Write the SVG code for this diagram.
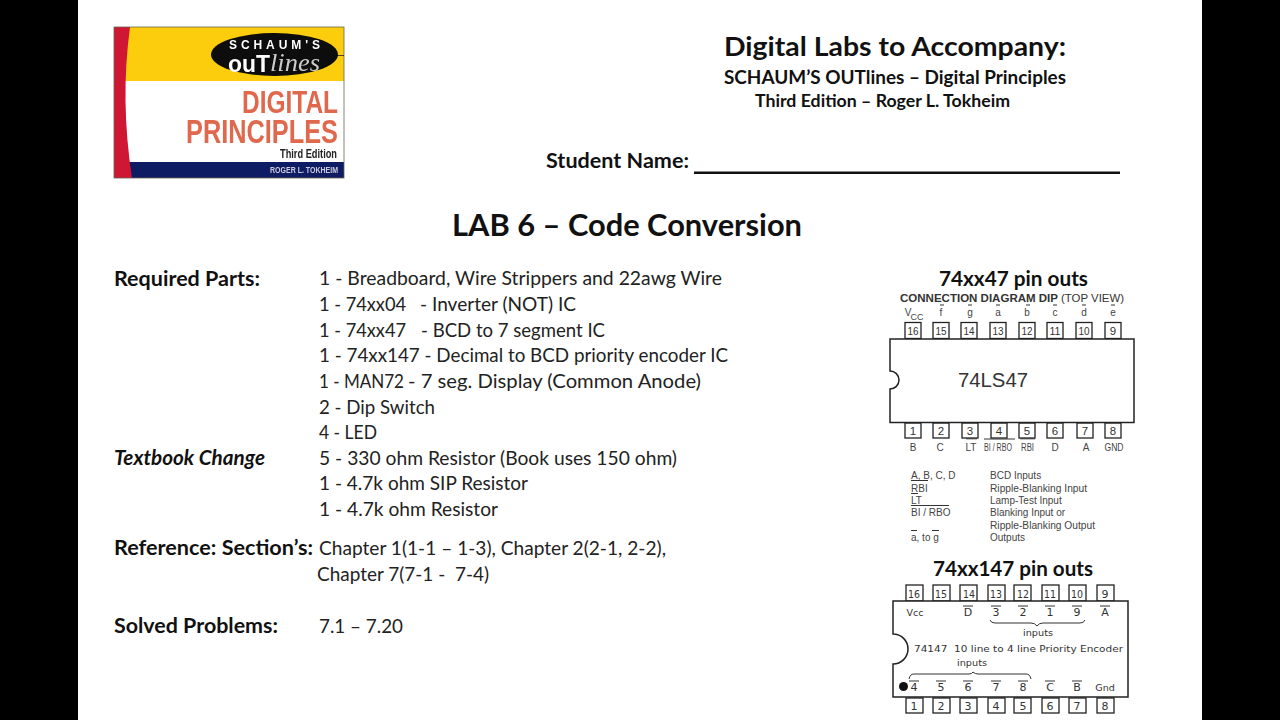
<svg xmlns="http://www.w3.org/2000/svg" width="1280" height="720" viewBox="0 0 1280 720">
<style>
.c{font-family:Lato,"Open Sans","Noto Sans",sans-serif;fill:#111}
.b{font-weight:700}
.t{font-size:19.5px;fill:#222}
.a{font-family:"Liberation Sans",Arial,sans-serif;fill:#333}
.pl{font-size:10px;text-anchor:middle;fill:#444}
.pn{font-size:11.5px;text-anchor:middle}
.lg{font-size:10px;fill:#444}
.m{font-family:"DejaVu Sans",sans-serif;fill:#333}
.mn{font-size:11px;text-anchor:middle}
.pin{fill:#fff;stroke:#222;stroke-width:1.3}
.body{fill:#fff;stroke:#222;stroke-width:1.5}
.ln{stroke:#333;stroke-width:1;fill:none}
</style>
<defs><filter id="soft" x="-5%" y="-5%" width="110%" height="110%"><feGaussianBlur stdDeviation="0.45"/></filter></defs>
<rect width="1280" height="720" fill="#fff"/>
<rect x="0" y="0" width="78" height="720" fill="#000"/>
<rect x="1202" y="0" width="78" height="720" fill="#000"/>

<g id="cover" filter="url(#soft)">
<rect x="114" y="27" width="230" height="151" fill="#fff"/>
<rect x="114" y="27" width="230" height="54" fill="#fbcd0a"/>
<rect x="114" y="162" width="230" height="16" fill="#0f1a63"/>
<path d="M114 27H130Q120 100 132 178H114Z" fill="#cf1230"/>
<rect x="114" y="27" width="230" height="151" fill="none" stroke="#665" stroke-width="0.8"/>
<path d="M336 55.500H344" stroke="#222" stroke-width="0.8"/>
<ellipse cx="274.500" cy="54.500" rx="63.500" ry="21.500" fill="#0a0a0a"/>
<text x="229" y="49" font-family="'Liberation Sans',sans-serif" font-weight="700" font-size="12" fill="#fff" textLength="91">SCHAUM'S</text>
<text x="228" y="71.500" font-family="'Liberation Sans',sans-serif" font-weight="700" font-size="23" fill="#fff" textLength="42" lengthAdjust="spacingAndGlyphs">ouT</text>
<text x="270" y="71" font-family="'Liberation Serif',serif" font-style="italic" font-size="25" fill="#ccc" textLength="50" lengthAdjust="spacingAndGlyphs">lines</text>
<text x="242" y="113" font-family="'Liberation Sans',sans-serif" font-weight="700" font-size="32" fill="#e0694d" textLength="96" lengthAdjust="spacingAndGlyphs">DIGITAL</text>
<text x="186" y="143" font-family="'Liberation Sans',sans-serif" font-weight="700" font-size="33" fill="#e0694d" textLength="152" lengthAdjust="spacingAndGlyphs">PRINCIPLES</text>
<text x="280" y="158" font-family="'Liberation Sans',sans-serif" font-weight="700" font-size="13" fill="#222" textLength="57" lengthAdjust="spacingAndGlyphs">Third Edition</text>
<text x="270" y="173" font-family="'Liberation Sans',sans-serif" font-weight="700" font-size="9.500" fill="#ccd" textLength="68" lengthAdjust="spacingAndGlyphs">ROGER L. TOKHEIM</text>
</g>

<g id="header">
<text class="c b" x="724" y="56" font-size="26.500" textLength="342" lengthAdjust="spacingAndGlyphs">Digital Labs to Accompany:</text>
<text class="c b" x="724" y="84" font-size="19" textLength="342" lengthAdjust="spacingAndGlyphs">SCHAUM’S OUTlines – Digital Principles</text>
<text class="c b" x="755" y="107" font-size="16.500" textLength="255" lengthAdjust="spacingAndGlyphs">Third Edition – Roger L. Tokheim</text>
<text class="c b" x="546" y="168" font-size="20.500" textLength="143" lengthAdjust="spacingAndGlyphs">Student Name:</text>
<rect x="694" y="171.500" width="426" height="2.500" fill="#111"/>
<text class="c b" x="452" y="236" font-size="31" textLength="350" lengthAdjust="spacingAndGlyphs">LAB 6 – Code Conversion</text>
</g>

<g id="parts">
<text class="c b" x="114" y="285.500" font-size="20" textLength="146" lengthAdjust="spacingAndGlyphs">Required Parts:</text>
<text class="c t" x="319" y="285" textLength="403" lengthAdjust="spacingAndGlyphs">1 - Breadboard, Wire Strippers and 22awg Wire</text>
<text class="c t" x="319" y="311" textLength="87" lengthAdjust="spacingAndGlyphs">1 - 74xx04</text>
<text class="c t" x="420" y="311" textLength="156" lengthAdjust="spacingAndGlyphs">- Inverter (NOT) IC</text>
<text class="c t" x="319" y="337" textLength="87" lengthAdjust="spacingAndGlyphs">1 - 74xx47</text>
<text class="c t" x="421" y="337" textLength="184" lengthAdjust="spacingAndGlyphs">- BCD to 7 segment IC</text>
<text class="c t" x="319" y="362" textLength="409" lengthAdjust="spacingAndGlyphs">1 - 74xx147 - Decimal to BCD priority encoder IC</text>
<text class="c t" x="319" y="388" textLength="85" lengthAdjust="spacingAndGlyphs">1 - MAN72</text>
<text class="c t" x="408" y="388" textLength="293" lengthAdjust="spacingAndGlyphs">- 7 seg. Display (Common Anode)</text>
<text class="c t" x="319" y="414" textLength="116" lengthAdjust="spacingAndGlyphs">2 - Dip Switch</text>
<text class="c t" x="319" y="439" textLength="58" lengthAdjust="spacingAndGlyphs">4 - LED</text>
<text class="c b" x="114" y="464.500" font-size="20" font-style="italic" textLength="151" lengthAdjust="spacingAndGlyphs">Textbook Change</text>
<text class="c t" x="319" y="465" textLength="358" lengthAdjust="spacingAndGlyphs">5 - 330 ohm Resistor (Book uses 150 ohm)</text>
<text class="c t" x="319" y="490" textLength="209" lengthAdjust="spacingAndGlyphs">1 - 4.7k ohm SIP Resistor</text>
<text class="c t" x="319" y="516" textLength="179" lengthAdjust="spacingAndGlyphs">1 - 4.7k ohm Resistor</text>
<text class="c b" x="114" y="555" font-size="20" textLength="199" lengthAdjust="spacingAndGlyphs">Reference: Section’s:</text>
<text class="c t" x="319" y="555" textLength="347" lengthAdjust="spacingAndGlyphs">Chapter 1(1-1 – 1-3), Chapter 2(2-1, 2-2),</text>
<text class="c t" x="317" y="581" textLength="172" lengthAdjust="spacingAndGlyphs" xml:space="preserve">Chapter 7(7-1 -  7-4)</text>
<text class="c b" x="114" y="633" font-size="20" textLength="164" lengthAdjust="spacingAndGlyphs">Solved Problems:</text>
<text class="c t" x="319" y="633" textLength="84" lengthAdjust="spacingAndGlyphs">7.1 – 7.20</text>
</g>

<g id="ic-74xx47">
<text class="c b" x="939" y="285.500" font-size="20.500" textLength="149" lengthAdjust="spacingAndGlyphs">74xx47 pin outs</text>
<text class="a b" x="900" y="302" font-size="11" fill="#111" textLength="158" lengthAdjust="spacingAndGlyphs">CONNECTION DIAGRAM DIP</text>
<text class="a" x="1061" y="302" font-size="11" fill="#666" textLength="63" lengthAdjust="spacingAndGlyphs">(TOP VIEW)</text>
<path d="M940 305H944M968 305H972M996 305H1000M1026 305H1030M1053 305H1057M1082 305H1086M1111 305H1115" stroke="#333" stroke-width="1.200"/>
<g class="a pl">
<text x="908" y="316">V</text><text x="917" y="320" font-size="9">CC</text>
<text x="941" y="316">f</text><text x="970" y="316">g</text><text x="998" y="316">a</text><text x="1027" y="316">b</text><text x="1055" y="316">c</text><text x="1084" y="316">d</text><text x="1113" y="316">e</text>
</g>
<g>
<rect class="pin" x="905" y="322.500" width="16" height="16"/><rect class="pin" x="933" y="322.500" width="16" height="16"/><rect class="pin" x="961" y="322.500" width="16" height="16"/><rect class="pin" x="990" y="322.500" width="16" height="16"/><rect class="pin" x="1019" y="322.500" width="16" height="16"/><rect class="pin" x="1047" y="322.500" width="16" height="16"/><rect class="pin" x="1076" y="322.500" width="16" height="16"/><rect class="pin" x="1105" y="322.500" width="16" height="16"/>
<rect class="pin" x="905" y="423" width="16" height="15"/><rect class="pin" x="933" y="423" width="16" height="15"/><rect class="pin" x="962" y="423" width="16" height="15"/><rect class="pin" x="991" y="423" width="16" height="15"/><rect class="pin" x="1019" y="423" width="16" height="15"/><rect class="pin" x="1047" y="423" width="16" height="15"/><rect class="pin" x="1077" y="423" width="16" height="15"/><rect class="pin" x="1105" y="423" width="16" height="15"/>
</g>
<path class="body" d="M890 339H1134V422.500H890V389A8.500 8.500 0 0 0 890 371Z"/>
<text class="a" x="958" y="387" font-size="20.500" fill="#222" textLength="70" lengthAdjust="spacingAndGlyphs">74LS47</text>
<g class="a pn">
<text x="913" y="335" textLength="11" lengthAdjust="spacingAndGlyphs">16</text><text x="941" y="335" textLength="11" lengthAdjust="spacingAndGlyphs">15</text><text x="969" y="335" textLength="11" lengthAdjust="spacingAndGlyphs">14</text><text x="998" y="335" textLength="11" lengthAdjust="spacingAndGlyphs">13</text><text x="1027" y="335" textLength="11" lengthAdjust="spacingAndGlyphs">12</text><text x="1055" y="335" textLength="11" lengthAdjust="spacingAndGlyphs">11</text><text x="1084" y="335" textLength="11" lengthAdjust="spacingAndGlyphs">10</text><text x="1113" y="335">9</text>
<text x="913" y="435">1</text><text x="941" y="435">2</text><text x="970" y="435">3</text><text x="999" y="435">4</text><text x="1027" y="435">5</text><text x="1055" y="435">6</text><text x="1085" y="435">7</text><text x="1113" y="435">8</text>
</g>
<g class="a pl">
<text x="913" y="451">B</text><text x="940" y="451">C</text><text x="971" y="451">LT</text><text x="998" y="451" textLength="28" lengthAdjust="spacingAndGlyphs">BI / RBO</text><text x="1027.500" y="451" textLength="13" lengthAdjust="spacingAndGlyphs">RBI</text><text x="1055" y="451">D</text><text x="1086" y="451">A</text><text x="1114" y="451" textLength="19" lengthAdjust="spacingAndGlyphs">GND</text>
</g>
<path class="ln" d="M984 439H1015" stroke="#777"/>
<path class="ln" d="M966 438.800H977M1020 438.800H1035" stroke-width="1.200"/>
</g>

<g id="legend" class="a lg">
<text x="911" y="479">A, B, C, D</text><text x="990" y="479">BCD Inputs</text>
<text x="911" y="492">RBI</text><text x="990" y="492" textLength="97" lengthAdjust="spacingAndGlyphs">Ripple-Blanking Input</text>
<text x="911" y="504">LT</text><text x="990" y="504">Lamp-Test Input</text>
<text x="911" y="516">BI / RBO</text><text x="990" y="516">Blanking Input or</text>
<text x="990" y="529" textLength="105" lengthAdjust="spacingAndGlyphs">Ripple-Blanking Output</text>
<text x="911" y="541">a, to g</text><text x="990" y="541">Outputs</text>
<path class="ln" d="M911 480.500H928M911 493.500H918M911 505.500H949M911 530.500H917M932 530.500H939" stroke-width="1.200"/>
</g>

<g id="ic-74xx147">
<text class="c b" x="933" y="576" font-size="20.500" textLength="160" lengthAdjust="spacingAndGlyphs">74xx147 pin outs</text>
<g>
<rect class="pin" x="906" y="585" width="17" height="16"/><rect class="pin" x="933" y="585" width="17" height="16"/><rect class="pin" x="960" y="585" width="17" height="16"/><rect class="pin" x="988" y="585" width="17" height="16"/><rect class="pin" x="1014" y="585" width="17" height="16"/><rect class="pin" x="1042" y="585" width="17" height="16"/><rect class="pin" x="1069" y="585" width="17" height="16"/><rect class="pin" x="1097" y="585" width="17" height="16"/>
<rect class="pin" x="906" y="698" width="17" height="15"/><rect class="pin" x="933" y="698" width="17" height="15"/><rect class="pin" x="960" y="698" width="17" height="15"/><rect class="pin" x="988" y="698" width="17" height="15"/><rect class="pin" x="1014" y="698" width="17" height="15"/><rect class="pin" x="1042" y="698" width="17" height="15"/><rect class="pin" x="1069" y="698" width="17" height="15"/><rect class="pin" x="1097" y="698" width="17" height="15"/>
</g>
<path class="body" d="M893 601H1128V697H893V664A15 15 0 0 0 893 634Z"/>
<g class="m mn">
<text x="914" y="598" textLength="12" lengthAdjust="spacingAndGlyphs">16</text><text x="941" y="598" textLength="12" lengthAdjust="spacingAndGlyphs">15</text><text x="969" y="598" textLength="12" lengthAdjust="spacingAndGlyphs">14</text><text x="996" y="598" textLength="12" lengthAdjust="spacingAndGlyphs">13</text><text x="1023" y="598" textLength="12" lengthAdjust="spacingAndGlyphs">12</text><text x="1050" y="598" textLength="12" lengthAdjust="spacingAndGlyphs">11</text><text x="1077" y="598" textLength="12" lengthAdjust="spacingAndGlyphs">10</text><text x="1105" y="598">9</text>
<text x="915" y="616" font-size="9.500">Vcc</text><text x="968" y="616">D</text><text x="996" y="616">3</text><text x="1023" y="616">2</text><text x="1050" y="616">1</text><text x="1077" y="616">9</text><text x="1105" y="616">A</text>
<text x="914" y="691">4</text><text x="941" y="691">5</text><text x="968" y="691">6</text><text x="996" y="691">7</text><text x="1023" y="691">8</text><text x="1050" y="691">C</text><text x="1077" y="691">B</text><text x="1105" y="691" font-size="9.500">Gnd</text>
<text x="914" y="710">1</text><text x="941" y="710">2</text><text x="968" y="710">3</text><text x="996" y="710">4</text><text x="1023" y="710">5</text><text x="1050" y="710">6</text><text x="1077" y="710">7</text><text x="1105" y="710">8</text>
</g>
<text class="m" x="1023" y="636" font-size="9.500" textLength="30" lengthAdjust="spacingAndGlyphs">inputs</text>
<text class="m" x="914" y="652" font-size="9.500" textLength="209" lengthAdjust="spacingAndGlyphs" xml:space="preserve">74147  10 line to 4 line Priority Encoder</text>
<text class="m" x="957" y="666" font-size="9.500" textLength="30" lengthAdjust="spacingAndGlyphs">inputs</text>
<path class="ln" d="M963 606H973M991 606H1001M1018 606H1028M1045 606H1055M1072 606H1082M1100 606H1110M909 681H919M936 681H946M963 681H973M991 681H1001M1018 681H1028M1045 681H1055M1072 681H1082"/>
<path class="ln" d="M990 620Q991 623 995 623H1031Q1035 623 1037 626Q1039 623 1043 623H1080Q1084 623 1085 620"/>
<path class="ln" d="M909 679Q910 674 914 674H969Q972 674 973 672Q975 674 978 674H1026Q1030 674 1031 679"/>
<circle cx="903.500" cy="686.500" r="4.500" fill="#111"/>
</g>
</svg>
